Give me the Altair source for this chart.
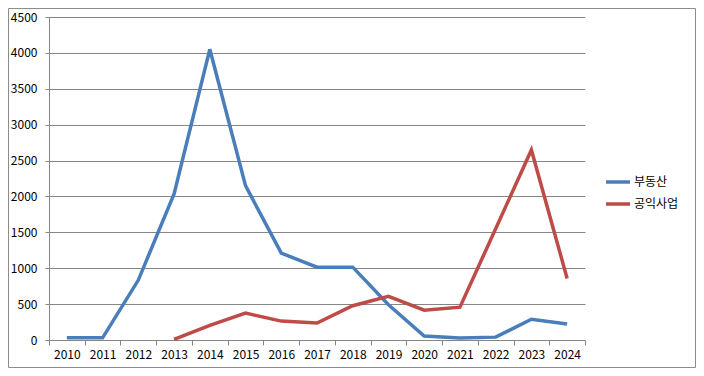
import altair as alt
import pandas as pd

years = [str(y) for y in range(2010, 2025)]
series_names = ["부동산", "공익사업"]
real_estate = [30, 30, 835, 2035, 4050, 2150, 1210, 1015, 1015, 490, 55, 28, 40, 290, 222]
public_works = [None, None, None, 10, 205, 375, 263, 236, 478, 609, 415, 457, 1550, 2648, 858]
colors = ["#4A7EBB", "#BE4B48"]
y_ticks = list(range(0, 4501, 500))

rows = []
for name, vals in zip(series_names, [real_estate, public_works]):
    for yr, v in zip(years, vals):
        rows.append({"year": yr, "series": name, "value": v})
df = pd.DataFrame(rows)

FONT = "Noto Sans CJK KR"
GRAY = "#868686"

lines = alt.Chart(df).mark_line(strokeWidth=3.5, clip=False).encode(
    x=alt.X("year:O", bandPosition=0.5, sort=years,
            scale=alt.Scale(type="band", paddingInner=0, paddingOuter=0),
            axis=alt.Axis(title=None, labelAngle=0, tickBand="extent", tickSize=5,
                          labelPadding=4, domainColor=GRAY, tickColor=GRAY,
                          labelFontSize=12, labelColor="#000000", grid=False)),
    y=alt.Y("value:Q", scale=alt.Scale(domain=[0, 4500], nice=False),
            axis=alt.Axis(title=None, values=y_ticks, format="d", tickSize=4, labelPadding=8,
                          domainColor=GRAY, tickColor=GRAY, gridColor=GRAY,
                          labelFontSize=12, labelColor="#000000", grid=True)),
    color=alt.Color("series:N", sort=series_names,
                    scale=alt.Scale(domain=series_names, range=colors),
                    legend=alt.Legend(title=None, orient="none", legendX=555, legendY=151,
                                      symbolType="stroke", symbolSize=576,
                                      symbolStrokeWidth=3.5, labelFontSize=12,
                                      labelOffset=2, rowPadding=1, labelColor="#000000")),
)

border = alt.Chart(alt.Data(values=[{}])).mark_rect(
    filled=False, stroke="#8C8C8C", strokeWidth=1, clip=False
).encode(
    x=alt.value(-40.5), x2=alt.value(646.5), y=alt.value(-8.5), y2=alt.value(350.5)
)

chart = alt.layer(lines, border).properties(
    width=536, height=323,
    autosize=alt.AutoSizeParams(type="none"),
    padding={"left": 41, "top": 9, "right": 111, "bottom": 28},
).configure(font=FONT).configure_view(strokeOpacity=0)

chart.save("out.html", embed_options={"renderer": "svg", "actions": False})
